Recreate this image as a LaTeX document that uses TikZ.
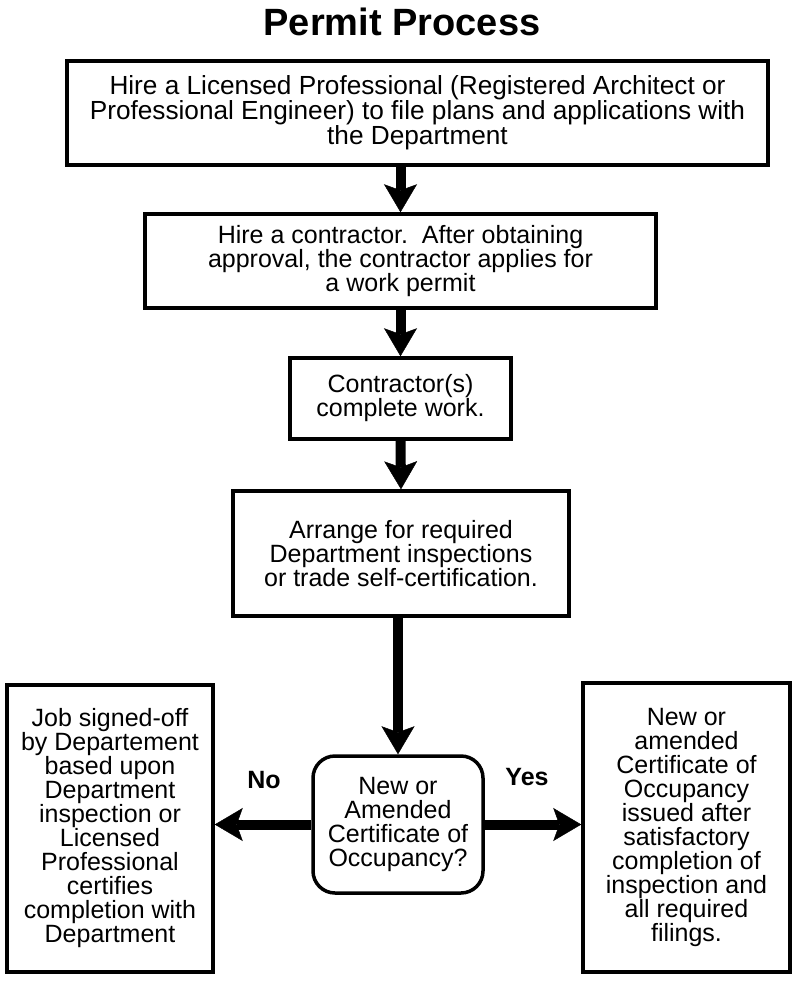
\documentclass[tikz,border=0pt]{standalone}
\usepackage{fontspec}
\setmainfont{Liberation Sans}
\usetikzlibrary{arrows.meta}

\tikzset{
  procbox/.style={draw=black, line width=3.5pt, align=center, inner sep=0pt,
    font=\fontsize{25}{24}\selectfont},
  choicebox/.style={procbox, rounded corners=22pt},
  flow/.style={line width=10pt, -{Stealth[length=28pt,width=33pt,inset=6pt,line width=0.4pt]}},
  answer/.style={font=\bfseries\fontsize{25}{26}\selectfont}
}

\begin{document}
\begin{tikzpicture}[x=1pt, y=-1pt]
        \useasboundingbox (0,0) rectangle (800,996);

        \node[font=\bfseries\fontsize{38}{40}\selectfont] (title) at (402,22) {Permit Process};

        \node[procbox, minimum width=701pt, minimum height=104pt, font=\fontsize{26.2}{25}\selectfont] (licensed) at (417.5,113)
            {Hire a Licensed Professional (Registered Architect or\\Professional Engineer) to file plans and applications with\\the Department};
        \node[procbox, minimum width=511pt, minimum height=94pt] (contractor) at (400.5,261)
            {Hire a contractor.\ \ After obtaining\\approval, the contractor applies for\\a work permit};
        \node[procbox, minimum width=221pt, minimum height=81pt] (work) at (400.5,398.5)
            {Contractor(s)\\complete work.};
        \node[procbox, minimum width=336pt, minimum height=125pt] (inspect) at (401,553.5)
            {Arrange for required\\Department inspections\\or trade self-certification.};
        \node[choicebox, minimum width=170pt, minimum height=137pt] (occupancy) at (398,824.5)
            {New or\\Amended\\Certificate of\\Occupancy?};
        \node[procbox, minimum width=206pt, minimum height=287pt] (signoff) at (110,828.5)
            {Job signed-off\\by Departement\\based upon\\Department\\inspection or\\Licensed\\Professional\\certifies\\completion with\\Department};
        \node[procbox, minimum width=207pt, minimum height=289pt] (issued) at (686.5,827.5)
            {New or\\amended\\Certificate of\\Occupancy\\issued after\\satisfactory\\completion of\\inspection and\\all required\\filings.};

        \draw[flow] (licensed.south -| contractor.north) -- (contractor.north);
        \draw[flow] (contractor.south) -- (work.north);
        \draw[flow] (work.south) -- (inspect.north);
        \draw[flow] (inspect.south -| occupancy.north) -- (occupancy.north);
        \draw[flow] (occupancy.west) -- (occupancy.west -| signoff.east);
        \draw[flow] (occupancy.east) -- (occupancy.east -| issued.west);

        \node[answer] (no) at (264,780) {No};
        \node[answer] (yes) at (527,777) {Yes};
    \end{tikzpicture}
\end{document}
